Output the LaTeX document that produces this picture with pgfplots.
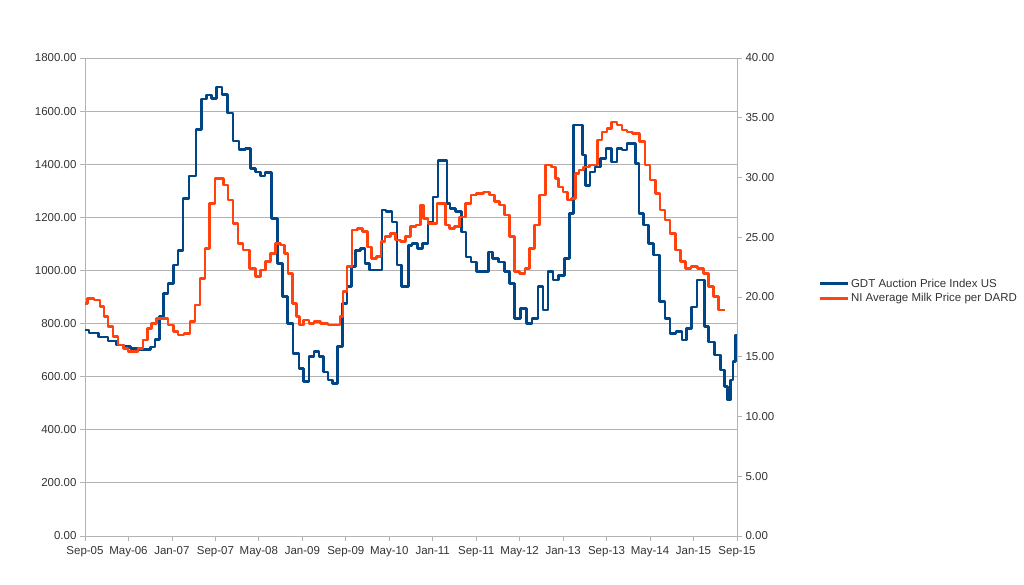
\documentclass[border=0pt]{standalone}
\usepackage{pgfplots}
\pgfplotsset{compat=1.18}
\usepackage{fontspec}
\setmainfont{Liberation Sans}
\definecolor{gdtblue}{HTML}{004586}
\definecolor{dardorange}{HTML}{FF420E}
\definecolor{gridgray}{HTML}{B3B3B3}
\definecolor{labelgray}{HTML}{333333}

% GDT auction price index (left axis), x = months since Sep-05
\pgfplotstableread{
t v
0 775
1.5 765
3.5 750
5 735
6.6 720
7.8 713
9 705
10.5 700
11.5 703
12.5 712
13.3 740
14.2 826
14.8 913
15.8 951
16.7 1020
17.6 1076
18.5 1271
19.8 1355
21 1531
21.9 1645
22.8 1660
23.7 1647
24.7 1691
25.7 1662
26.8 1593
27.7 1488
29 1455
30 1459
30.9 1384
31.8 1371
32.7 1355
33.6 1368
35 1196
35.8 1026
36.8 901
37.7 800
38.9 687
39.8 631
40.7 581
41.7 675
42.6 694
43.5 675
44.4 618
45 587
46 575
46.9 713
47.8 876
48.7 939
49.3 1014
50.2 1076
51.2 1083
51.8 1026
53 1001
54.5 1001
54.8 1227
56 1221
57 1183
57.9 1020
58.5 939
59.2 939
59.8 1095
60.6 1102
61.7 1083
62.6 1102
63.6 1183
64.5 1277
65.4 1415
66.3 1415
66.9 1252
67.5 1233
68.8 1221
69.7 1145
70.6 1051
71.5 1032
72.5 995
74 995
74.6 1070
75.5 1045
76.8 1032
77.7 995
78.6 951
79.5 819
80.8 857
81.7 800
82.9 819
83.8 939
84.8 851
85.7 995
86.6 964
87.8 982
88.7 1045
89.6 1214
90.3 1547
91.3 1547
91.8 1434
92.5 1321
93.4 1371
94.4 1390
95.3 1421
96.5 1459
97.4 1409
98.4 1459
99.3 1453
100.2 1478
101 1478
101.6 1403
102.3 1214
103.3 1171
104.2 1102
105.1 1058
106.3 882
107.2 819
108.2 763
109.4 769
110.3 738
111.2 782
112.1 863
113.1 964
113.8 964
114.3 788
115.2 731
116.5 681
117.4 625
118 562
118.5 512
119 587
119.5 656
120 757
}\gdttable

% NI average milk price per DARD (right axis)
\pgfplotstableread{
t v
0 19.46
1 19.88
2.3 19.74
3.2 19.19
3.8 18.35
4.7 17.51
5.6 16.68
6.6 15.98
7.5 15.70
8.4 15.42
9.3 15.42
10.2 15.70
11.2 16.40
11.8 17.37
12.7 17.79
13.6 18.21
14.8 18.21
15.8 17.65
16.7 17.10
17.6 16.82
18.8 16.96
19.8 17.93
20.7 19.32
21.6 21.55
22.5 24.06
23.4 27.83
24.4 29.92
25 29.92
25.9 29.36
26.8 28.11
27.7 26.16
28.6 24.48
29.6 23.92
30.9 22.39
31.8 21.70
32.8 22.25
33.7 22.95
34.6 23.65
35.5 24.48
36.4 24.34
37 23.65
37.7 21.97
38.6 19.46
39.2 18.35
39.8 17.65
40.7 18.07
41.7 17.79
42.6 17.93
44.1 17.79
45.3 17.65
46.6 17.65
47.2 18.35
47.8 20.44
48.7 22.53
49.6 25.60
50.6 25.74
51.5 25.46
52.4 24.20
53 23.23
54.2 23.37
54.8 24.62
55.7 25.04
56.7 25.32
57.6 24.76
58.5 24.62
59.4 25.04
60.4 25.88
61.4 26.02
62 27.69
62.6 26.57
63.6 26.16
64.5 26.16
65.1 27.83
66 27.83
66.6 26.02
67.5 25.74
68.5 25.88
69.4 26.71
70.6 27.83
71.5 28.52
72.7 28.66
74 28.80
74.9 28.52
75.8 27.97
76.8 27.69
77.7 26.85
78.6 25.04
79.5 22.11
80.5 21.97
81.4 22.39
82.3 24.06
83.2 26.02
84.1 28.52
85.4 31.03
86.3 30.89
86.9 29.92
87.5 29.22
88.4 28.80
89.1 28.11
90 28.25
90.6 30.34
91.3 30.62
92.2 30.89
93.4 31.03
94 31.03
94.7 33.13
95.6 33.82
96.5 34.10
97.4 34.66
98.4 34.38
99.3 33.96
100.2 33.82
101.4 33.68
102.6 32.99
103.5 31.03
104.5 29.78
105.4 28.66
106.3 27.27
107.2 26.43
108.2 25.32
109.1 23.92
110 22.95
111 22.39
112.1 22.53
113.4 22.39
114.3 21.97
115.2 20.86
116.1 20.02
117 18.91
117.7 18.91
}\dardtable

\begin{document}
\begin{tikzpicture}[font=\fontsize{11.5}{13}\selectfont]
\useasboundingbox (0,0) rectangle (1024pt,584pt);
\pgfplotsset{
  every axis/.append style={
    scale only axis, width=652pt, height=478pt,
    at={(85pt,48pt)}, anchor=south west,
    xmin=0, xmax=120,
    axis line style={gridgray, line width=0.8pt},
    tick style={gridgray, line width=0.8pt},
    tick align=outside, major tick length=5pt,
    tick label style={text=labelgray},
    /pgf/number format/assume math mode=true,
    y tick label style={/pgf/number format/.cd, fixed, fixed zerofill, precision=2, 1000 sep={}, /tikz/.cd},
  },
}
\begin{axis}[
  axis x line*=bottom, axis y line*=left,
  ymin=0, ymax=1800, ytick={0,200,...,1800},
  xtick={0,8,...,120},
  xticklabels={Sep-05,May-06,Jan-07,Sep-07,May-08,Jan-09,Sep-09,May-10,Jan-11,Sep-11,May-12,Jan-13,Sep-13,May-14,Jan-15,Sep-15},
  x tick label style={yshift=-2pt},
  ymajorgrids, major grid style={gridgray, line width=0.8pt},
  scaled y ticks=false,
]
\addplot[const plot mark mid, gdtblue, line width=2.6pt, line join=round] table[x=t, y=v] {\gdttable};
\end{axis}
\begin{axis}[
  axis x line=none, axis y line*=right,
  ymin=0, ymax=40, ytick={0,5,...,40},
  legend style={at={(1.12,0.5125)}, anchor=west, draw=none, fill=none,
    row sep=1pt, text=labelgray, font=\fontsize{11.5}{13}\selectfont},
  legend cell align=left,
  legend image code/.code={\draw[#1] (0pt,0pt) -- (28pt,0pt);},
]
\addlegendimage{gdtblue, line width=2.6pt}
\addlegendentry{GDT Auction Price Index US}
\addplot[const plot mark mid, dardorange, line width=2.6pt, line join=round] table[x=t, y=v] {\dardtable};
\addlegendentry{NI Average Milk Price per DARD}
\end{axis}
\end{tikzpicture}
\end{document}
